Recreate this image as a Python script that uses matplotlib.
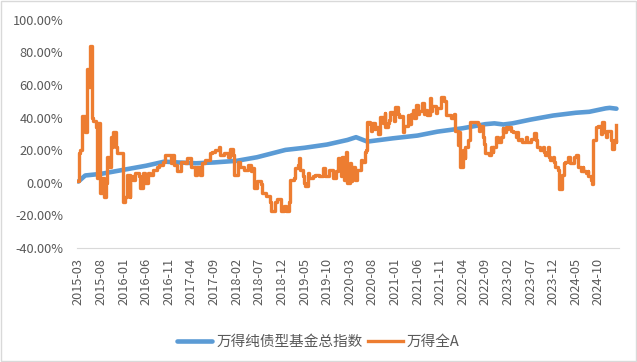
# Bond fund index vs Wind All A, cumulative return since 2015-03

import matplotlib
matplotlib.use("Agg")
import matplotlib.pyplot as plt
from matplotlib.patches import Rectangle
import numpy as np

plt.rcParams['font.family'] = ['Noto Sans CJK SC', 'DejaVu Sans']

# x values are months since 2015-03
tick_labels = ['2015-03', '2015-08', '2016-01', '2016-06', '2016-11', '2017-04',
               '2017-09', '2018-02', '2018-07', '2018-12', '2019-05', '2019-10',
               '2020-03', '2020-08', '2021-01', '2021-06', '2021-11', '2022-04',
               '2022-09', '2023-02', '2023-07', '2023-12', '2024-05', '2024-10']

bond_m = [0, 1.5, 5, 10, 15, 19, 22, 26, 30, 35, 39.5, 45.8, 50, 55, 59.5,
          61.4, 63.9, 69.5, 75, 79.4, 85, 90, 92, 94, 96, 100, 105, 110, 113,
          116.6, 117.5, 119]
bond_v = [0.8, 4.5, 5.5, 8, 10.5, 13, 12.5, 12, 12.5, 13.5, 15.7, 20.2, 21.5,
          23.5, 26.3, 28, 25.3, 27.3, 29, 31.4, 33.5, 36, 36.5, 35.8, 36.5,
          38.8, 41.3, 43, 43.6, 45.7, 46, 45.5]

alla_m = [0, 0.1, 0.4, 0.8, 1.5, 1.8, 2.2, 2.6, 3.0, 3.3,
          3.8, 4.0, 4.4, 4.8, 5.3, 5.6, 6.0, 6.4, 6.8, 7.3,
          7.5, 7.7, 8.2, 8.6, 9.9, 10.4, 10.8, 11.3, 11.5, 12.0,
          12.6, 13.3, 13.7, 14.2, 14.8, 15.3, 15.9, 16.6, 17.3, 17.9,
          18.6, 19.2, 19.7, 20.4, 20.8, 21.2, 21.9, 22.6, 23.5, 24.1,
          24.8, 25.7, 26.3, 26.8, 27.4, 28.1, 29.0, 29.6, 30.3, 31.2,
          31.4, 32.3, 33.0, 33.6, 34.1, 34.5, 35.2, 35.8, 36.7, 37.4,
          38.1, 38.5, 38.9, 39.6, 40.3, 40.7, 41.4, 42.3, 42.7, 43.4,
          44.0, 44.7, 45.4, 45.8, 46.5, 46.9, 47.6, 48.0, 48.5, 48.8,
          49.1, 49.6, 50.0, 50.2, 50.7, 51.1, 51.8, 52.4, 53.3, 54.0,
          54.6, 55.5, 56.2, 56.9, 57.5, 58.0, 58.4, 58.8, 59.1, 59.5,
          60.0, 60.2, 60.6, 61.1, 61.7, 62.4, 62.8, 63.3, 63.7, 63.9,
          64.4, 64.6, 65.0, 65.5, 65.7, 66.2, 66.6, 66.8, 67.3, 67.7,
          67.9, 68.4, 68.8, 69.0, 69.5, 69.9, 70.1, 70.6, 70.9, 71.2,
          71.7, 72.1, 72.8, 73.2, 73.5, 73.9, 74.3, 74.6, 75.0, 75.4,
          76.1, 76.5, 76.8, 77.2, 77.7, 77.9, 78.3, 79.0, 79.4, 80.1,
          80.8, 81.2, 82.1, 82.5, 83.0, 83.4, 83.9, 84.1, 84.5, 85.0,
          85.4, 85.6, 86.1, 86.5, 87.4, 88.3, 88.5, 88.9, 89.4, 89.6,
          90.0, 90.7, 91.2, 91.6, 91.8, 92.3, 92.7, 93.4, 93.8, 94.0,
          94.5, 94.9, 95.1, 95.6, 96.2, 96.7, 97.1, 97.3, 97.8, 98.2,
          98.9, 99.3, 100.0, 100.7, 101.1, 101.5, 102.2, 102.7, 102.9, 103.3,
          103.8, 104.0, 104.4, 104.9, 105.1, 105.5, 106.0, 106.4, 106.9, 107.3,
          107.7, 108.2, 108.8, 109.5, 110.0, 110.4, 110.6, 111.1, 111.5, 111.7,
          112.2, 112.6, 112.8, 113.3, 113.7, 113.9, 114.4, 115.0, 115.5, 115.9,
          116.2, 116.6, 117.0, 117.7, 118.1, 118.4, 118.8, 119.0]
alla_v = [1, 18, 20, 41, 31, 70, 59, 84, 40, 38,
          34, 3, 37, -6, 3, -8.5, 0, 16, 10, 28,
          22, 31, 22, 18, -12, -8.5, 5, -9, 4, 2,
          6, 4, -3, 6, 0, 6, 5, 8, 10, 11,
          13, 17, 17, 12, 17, 11, 7, 13, 12, 15,
          10, 5, 10, 5, 12, 14, 18, 19, 20, 22,
          17, 18, 16, 21, 17, 5, 13, 10, 8, 11,
          7, 9, -3, 1, -1, -6, -8, -12, -17, -12,
          -10, -17.5, -14, -17.5, -12, 2, 3, 9, 11, 15,
          8, 4, 0, -2, 6, 3, 4, 5, 4, 9,
          4, 8, 3, 7, 15, 4, 16, 2, 19, 0,
          12, 1, 10, 2, 8, 14, 13, 19, 20, 37.5,
          36, 32, 37, 33, 34, 30, 36.7, 40.5, 37, 43,
          34, 37, 38.5, 43.6, 42, 38, 46.7, 42, 40.5, 41,
          31, 35, 41.6, 36, 42, 44.6, 40, 47.7, 42, 44,
          49, 42, 45, 41.6, 52, 44, 47, 43, 46, 52.8,
          50, 41.6, 41.6, 40, 42, 32, 23, 31, 10, 20,
          15, 22, 26, 37.5, 37.5, 36, 32, 35, 28, 24,
          18, 17, 22, 19, 22, 28, 25, 28, 33.6, 31,
          34, 33, 34, 32, 31, 28, 31, 26, 27, 25,
          28, 25, 27, 30.6, 26, 22, 20, 22, 19, 17,
          22, 16, 14, 16, 13, 10, 8, -4, 5, 12,
          13, 16, 12, 16, 17, 12, 10, 7, 10, 7,
          6, 7, 4, 2, -1, 26, 34, 35, 30, 37.5,
          31, 28, 32, 26, 21, 26, 25, 35.5]

assert len(alla_m) == len(alla_v)
assert len(bond_m) == len(bond_v)

blue = '#5B9BD5'
orange = '#ED7D31'
grey = '#595959'

fig = plt.figure(figsize=(6.37, 3.62), dpi=100)
ax = fig.add_axes([0.121, 0.315, 0.851, 0.63])

ax.plot(bond_m, bond_v, color=blue, lw=3.3, solid_capstyle='round',
        label='万得纯债型基金总指数')
ax.plot(alla_m, alla_v, color=orange, lw=2.4, drawstyle='steps-post',
        label='万得全A')

ax.set_ylim(-40, 100)
ax.set_yticks(np.arange(-40, 101, 20))
ax.set_yticklabels([f'{v:.2f}%' for v in np.arange(-40, 101, 20)])
ax.set_xlim(-0.3, 119.6)
ax.set_xticks(np.arange(len(tick_labels)) * 5)
ax.set_xticklabels(tick_labels, rotation=90)

for s in ['top', 'right', 'left']:
    ax.spines[s].set_visible(False)
ax.spines['bottom'].set_color('#D9D9D9')
ax.tick_params(axis='both', length=0, labelsize=9.2, labelcolor=grey)
ax.tick_params(axis='y', pad=10)
ax.tick_params(axis='x', pad=7)

ax.legend(loc='lower center', bbox_to_anchor=(0.5, 0.0),
          bbox_transform=fig.transFigure, ncol=2, frameon=False,
          fontsize=10.5, labelcolor=grey, handlelength=2.4,
          handletextpad=0.25, columnspacing=0.4)

fig.add_artist(Rectangle((0.001, 0.002), 0.997, 0.995, transform=fig.transFigure,
                         fill=False, edgecolor='#D9D9D9', lw=1))

fig.savefig('out.png', dpi=100)
